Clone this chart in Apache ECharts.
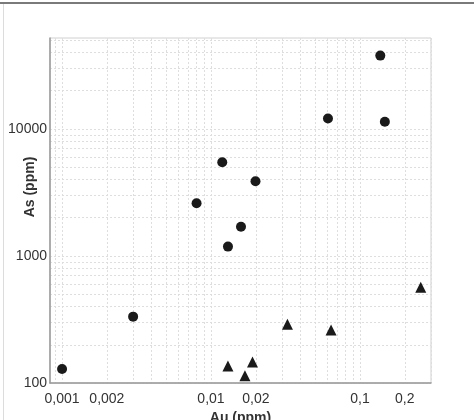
<!DOCTYPE html>
<html>
<head>
<meta charset="utf-8">
<script src="https://cdn.jsdelivr.net/npm/echarts@6/dist/echarts.min.js"></script>
<style>
  html, body { margin: 0; padding: 0; background: #fff; }
  #chart { width: 474px; height: 420px; }
</style>
</head>
<body>
<div id="chart"></div>
<script>
// Au vs As, both log scales
var circleAu = [0.001, 0.003, 0.008, 0.0119, 0.0199, 0.0159, 0.013, 0.061, 0.137, 0.147];
var circleAs = [129, 333, 2600, 5470, 3870, 1700, 1185, 12100, 37800, 11400];
var triAu = [0.013, 0.0169, 0.019, 0.0326, 0.064, 0.256];
var triAs = [136, 114, 146, 290, 261, 567];

var xLabels = [0.001, 0.002, 0.01, 0.02, 0.1, 0.2];
var yLabels = [100, 1000, 10000];

// minor grid positions 1..9 x 10^k
function decades(k0, k1) {
    var out = [];
    for (var k = k0; k <= k1; k++) {
        for (var m = 1; m <= 9; m++) {
            out.push(Number((m * Math.pow(10, k)).toPrecision(3)));
        }
    }
    return out;
}
var xGrid = decades(-4, -1);
var yGrid = decades(2, 4);

function pairs(xs, ys) {
    var d = [];
    for (var i = 0; i < xs.length; i++) d.push([xs[i], ys[i]]);
    return d;
}

var txt = '#333';
var gridLine = { show: true, lineStyle: { color: '#dedede', type: [2, 2], width: 1 } };

var myChart = echarts.init(document.getElementById('chart'));
myChart.setOption({
    backgroundColor: '#fff',
    animation: false,
    grid: {
        left: 50, right: 43, top: 38, bottom: 37,
        outerBoundsMode: 'none',
        containLabel: false,
        show: true, borderColor: '#d0d0d0', borderWidth: 1
    },
    xAxis: {
        type: 'log',
        min: 0.00083,
        max: 0.3,
        name: 'Au (ppm)',
        nameLocation: 'middle',
        nameGap: 26,
        nameTextStyle: { color: txt, fontSize: 14, fontWeight: 'bold', fontFamily: 'Liberation Sans' },
        axisLine: { lineStyle: { color: '#999', width: 1.5 } },
        axisTick: { show: false, customValues: xGrid },
        axisLabel: {
            customValues: xLabels,
            color: txt, fontSize: 14, fontFamily: 'Liberation Sans', margin: 9,
            formatter: function (v) { return String(v).replace('.', ','); }
        },
        splitLine: gridLine
    },
    yAxis: {
        type: 'log',
        min: 100,
        max: 52000,
        axisLine: { show: true, lineStyle: { color: '#999', width: 1.5 } },
        axisTick: { show: false, customValues: yGrid },
        axisLabel: {
            customValues: yLabels,
            color: txt, fontSize: 14, fontFamily: 'Liberation Sans', margin: 3,
            formatter: function (v) { return String(v); }
        },
        splitLine: gridLine
    },
    graphic: [
        {
            type: 'text', x: 30, y: 187, rotation: Math.PI / 2,
            style: {
                text: 'As (ppm)', fill: txt, fontSize: 14, fontWeight: 'bold',
                fontFamily: 'Liberation Sans', align: 'center', verticalAlign: 'middle'
            }
        },
        { type: 'rect', shape: { x: 0, y: 2, width: 474, height: 2 }, style: { fill: '#7a7a7a' } },
        { type: 'rect', shape: { x: 3, y: 4, width: 1, height: 416 }, style: { fill: '#dcdcdc' } }
    ],
    series: [
        {
            type: 'scatter',
            symbol: 'circle',
            symbolSize: 10,
            itemStyle: { color: '#1a1a1a', opacity: 1 },
            data: pairs(circleAu, circleAs)
        },
        {
            type: 'scatter',
            symbol: 'triangle',
            symbolSize: 11,
            itemStyle: { color: '#1a1a1a', opacity: 1 },
            data: pairs(triAu, triAs)
        }
    ]
});
</script>
</body>
</html>
